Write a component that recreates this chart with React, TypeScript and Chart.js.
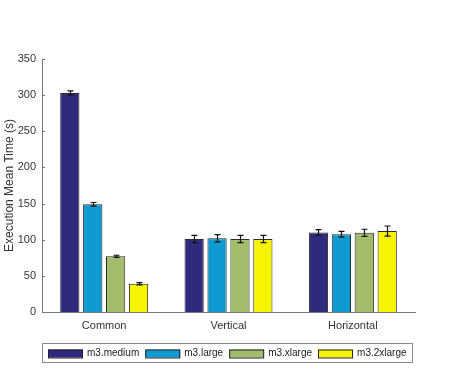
import React, { useEffect, useRef } from "react";
import { Chart, registerables } from "chart.js";

Chart.register(...registerables);

const categories = ["Common", "Vertical", "Horizontal"];
const seriesNames = ["m3.medium", "m3.large", "m3.xlarge", "m3.2xlarge"];
const mediumValues = [303, 101, 110];
const largeValues = [149, 102, 107.5];
const xlargeValues = [77, 101, 109.5];
const x2largeValues = [39, 101, 112];
const mediumErrors = [3, 5, 4];
const largeErrors = [2.5, 5, 4];
const xlargeErrors = [1.5, 5, 5];
const x2largeErrors = [1.5, 5, 7];
const yTicks = [0, 50, 100, 150, 200, 250, 300, 350];

const colors = ["#2f2a7e", "#0f9bd1", "#a2bc6b", "#f7f400"];
const FONT = "'Liberation Sans', Arial, sans-serif";

const errorBarPlugin = {
  id: "errorBars",
  afterDatasetsDraw(chart: any) {
    const ctx = chart.ctx;
    const yScale = chart.scales.y;
    ctx.save();
    ctx.strokeStyle = "#111";
    ctx.lineWidth = 1.2;
    chart.data.datasets.forEach((ds: any, i: number) => {
      const meta = chart.getDatasetMeta(i);
      meta.data.forEach((el: any, j: number) => {
        const v = ds.data[j];
        const e = ds.errors[j];
        const x = Math.round(el.x) + 0.5;
        const yt = yScale.getPixelForValue(v + e);
        const yb = yScale.getPixelForValue(v - e);
        ctx.beginPath();
        ctx.moveTo(x, yt);
        ctx.lineTo(x, yb);
        ctx.moveTo(x - 3, yt);
        ctx.lineTo(x + 3, yt);
        ctx.moveTo(x - 3, yb);
        ctx.lineTo(x + 3, yb);
        ctx.stroke();
      });
    });
    ctx.restore();
  },
};

const decorPlugin = {
  id: "decor",
  afterDraw(chart: any) {
    const ctx = chart.ctx;
    const y = chart.scales.y;
    const { left, right, bottom } = chart.chartArea;
    ctx.save();
    ctx.strokeStyle = "#777";
    ctx.lineWidth = 1;
    y.ticks.forEach((t: any) => {
      const py = Math.round(y.getPixelForValue(t.value)) + 0.5;
      ctx.beginPath();
      ctx.moveTo(left, py);
      ctx.lineTo(left + 3, py);
      ctx.stroke();
    });
    // legend
    const boxTop = bottom + 31;
    const boxH = 19;
    ctx.strokeStyle = "#888";
    ctx.strokeRect(Math.round(left) + 0.5, boxTop + 0.5, Math.round(right - left) - 3, boxH);
    ctx.font = "10px " + FONT;
    ctx.textBaseline = "middle";
    let x = Math.round(left) + 6;
    const cy = boxTop + 10.5;
    chart.data.datasets.forEach((ds: any) => {
      ctx.fillStyle = ds.backgroundColor;
      ctx.fillRect(x, cy - 4, 35, 8);
      ctx.strokeStyle = "#222";
      ctx.strokeRect(x + 0.5, cy - 4 + 0.5, 34, 8);
      x += 39;
      ctx.fillStyle = "#222";
      ctx.fillText(ds.label, x, cy);
      x += ctx.measureText(ds.label).width + 6;
    });
    ctx.restore();
  },
};

export default function App() {
  const ref = useRef<HTMLCanvasElement>(null);
  useEffect(() => {
    const valueSets = [mediumValues, largeValues, xlargeValues, x2largeValues];
    const errorSets = [mediumErrors, largeErrors, xlargeErrors, x2largeErrors];
    const chart = new Chart(ref.current!, {
      type: "bar",
      data: {
        labels: categories,
        datasets: seriesNames.map((name, i) => ({
          label: name,
          data: valueSets[i],
          errors: errorSets[i],
          backgroundColor: colors[i],
          borderColor: "#2a2a2a",
          borderWidth: 1,
          borderSkipped: "bottom",
          categoryPercentage: 0.737,
          barPercentage: 0.84,
        })) as any,
      },
      options: {
        animation: false,
        responsive: false,
        maintainAspectRatio: false,
        layout: { padding: { left: 2, right: 59, top: 59, bottom: 48 } },
        plugins: {
          tooltip: { enabled: false },
          legend: { display: false },
        },
        scales: {
          x: {
            afterFit: (s: any) => {
              s.height = 22;
            },
            grid: { display: false, drawTicks: false, tickLength: 0 },
            border: { display: true, color: "#777", width: 1 },
            ticks: { color: "#333", font: { family: FONT, size: 11 }, padding: 7 },
          },
          y: {
            min: 0,
            max: 350,
            afterBuildTicks: (s: any) => {
              s.ticks = yTicks.map((v) => ({ value: v }));
            },
            afterFit: (s: any) => {
              s.width = 40;
            },
            grid: { display: false, drawTicks: false, tickLength: 0 },
            border: { display: true, color: "#777", width: 1 },
            ticks: { color: "#333", font: { family: FONT, size: 11 }, padding: 6 },
            title: {
              display: true,
              text: "Execution Mean Time (s)",
              color: "#333",
              font: { family: FONT, size: 12 },
              padding: { top: 0, bottom: 2 },
            },
          },
        },
      },
      plugins: [errorBarPlugin, decorPlugin],
    } as any);
    return () => chart.destroy();
  }, []);
  return (
    <div style={{ position: "fixed", left: 0, top: 0, width: 474, height: 382, background: "#fff" }}>
      <canvas ref={ref} width={474} height={382} style={{ display: "block" }} />
    </div>
  );
}
